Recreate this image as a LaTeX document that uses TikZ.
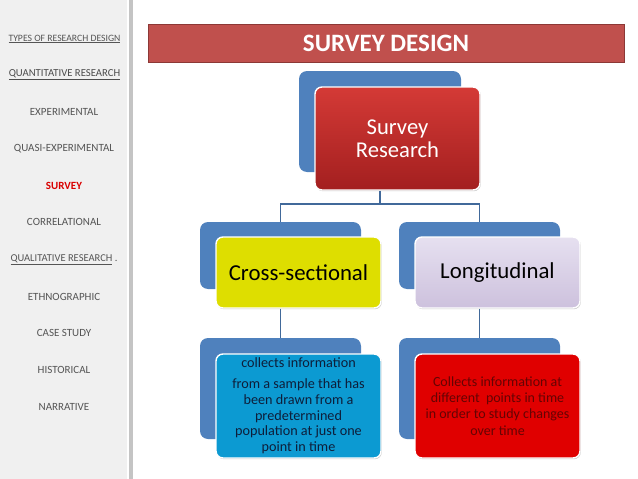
\documentclass[tikz,border=0pt]{standalone}
\usepackage{fontspec}
\setmainfont{Carlito}
\usetikzlibrary{shadows}
\definecolor{sidebg}{HTML}{F0F0F0}
\definecolor{sideline}{HTML}{C4C4C4}
\definecolor{sidetxt}{HTML}{555555}
\definecolor{titlefill}{HTML}{C0504D}
\definecolor{titledraw}{HTML}{8C3836}
\definecolor{backblue}{HTML}{4F81BD}
\definecolor{connblue}{HTML}{41699A}
\definecolor{redtop}{HTML}{D43A36}
\definecolor{redbot}{HTML}{A31F1F}
\definecolor{yel}{HTML}{DEDE00}
\definecolor{lavtop}{HTML}{E6E0F0}
\definecolor{lavbot}{HTML}{CDC1DD}
\definecolor{cyanbox}{HTML}{0C9AD2}
\definecolor{redbox}{HTML}{E00000}
\definecolor{darkred}{HTML}{640404}
\definecolor{navytxt}{HTML}{0E1E3A}
\tikzset{
  sideitem/.style={text=sidetxt, font=\fontsize{11}{12}\selectfont, inner sep=0pt},
  backbox/.style={fill=backblue, rounded corners=8pt, inner sep=0pt},
  frontbox/.style={draw=white, line width=1.4pt, rounded corners=7pt, inner sep=2pt,
    drop shadow={shadow xshift=0.8pt, shadow yshift=-1.2pt, opacity=0.35, fill=black!60}},
  conn/.style={draw=connblue, line width=1.3pt},
}
\begin{document}
\begin{tikzpicture}[x=1pt,y=-1pt]
\useasboundingbox (0,0) rectangle (638,479);
% sidebar
\fill[sidebg] (0,0) rectangle (127,479);
\fill[sideline] (129,0) rectangle (133,479);
\node[sideitem, font=\fontsize{9.7}{11}\selectfont] (s1) at (64.5,39) {\underline{TYPES OF RESEARCH DESIGN}};
\node[sideitem, text=black!70, font=\fontsize{10.7}{12}\selectfont] (s2) at (64.5,75) {\underline{QUANTITATIVE RESEARCH}};
\node[sideitem] (s3) at (64,112) {EXPERIMENTAL};
\node[sideitem] (s4) at (64,149) {QUASI-EXPERIMENTAL};
\node[sideitem, text=red!85!black] (s5) at (64,186) {\textbf{SURVEY}};
\node[sideitem] (s6) at (64,222) {CORRELATIONAL};
\node[sideitem, font=\fontsize{10.5}{12}\selectfont] (s7) at (64,260) {\underline{QUALITATIVE RESEARCH}\ .};
\node[sideitem] (s8) at (64,297) {ETHNOGRAPHIC};
\node[sideitem] (s9) at (64,333) {CASE STUDY};
\node[sideitem] (s10) at (64,370) {HISTORICAL};
\node[sideitem] (s11) at (64,407) {NARRATIVE};
% title bar
\node[fill=titlefill, draw=titledraw, line width=1pt, minimum width=476pt, minimum height=38pt,
  inner sep=0pt, text=white, font=\bfseries\fontsize{25}{28}\selectfont] (title) at (386,43) {SURVEY DESIGN};
% top node
\node[backbox, minimum width=162pt, minimum height=101pt] (topback) at (380,121.5) {};
\node[frontbox, top color=redtop, bottom color=redbot, minimum width=165pt, minimum height=103pt,
  text=white, align=center, font=\fontsize{22.6}{22.5}\selectfont] (topfront) at (397.5,138.5) {Survey\\Research};
% middle nodes
\node[backbox, minimum width=161pt, minimum height=67pt] (mlback) at (280.5,255.5) {};
\node[frontbox, fill=yel, minimum width=165pt, minimum height=71pt,
  font=\fontsize{22.8}{26}\selectfont] (mlfront) at (298.5,272.5) {Cross-sectional};
\node[backbox, minimum width=161pt, minimum height=67pt] (mrback) at (479.5,255.5) {};
\node[frontbox, top color=lavtop, bottom color=lavbot, minimum width=165pt, minimum height=71pt,
  font=\fontsize{22.8}{26}\selectfont] (mrfront) at (497.5,272.5) {Longitudinal};
% bottom nodes
\node[backbox, minimum width=161pt, minimum height=101pt] (blback) at (280.5,388.5) {};
\node[frontbox, fill=cyanbox, minimum width=165pt, minimum height=104pt, text=navytxt,
  align=center, font=\fontsize{14.2}{15.8}\selectfont] (blfront) at (298.5,406) {collects information\\[5pt]from a sample that has\\been drawn from a\\predetermined\\population at just one\\point in time};
\node[backbox, minimum width=161pt, minimum height=101pt] (brback) at (479.5,388.5) {};
\node[frontbox, fill=redbox, minimum width=165pt, minimum height=104pt, text=darkred,
  align=center, font=\fontsize{14}{16.2}\selectfont] (brfront) at (497.5,406) {Collects information at\\different~ points in time\\in order to study changes\\over time};
% connectors
\coordinate (junc) at (380,204);
\draw[conn] (topback.center |- topfront.south) -- (junc) -| (mlback.north);
\draw[conn] (junc) -| (mrback.north);
\draw[conn] (mlback.center |- mlfront.south) -- (blback.north);
\draw[conn] (mrback.center |- mrfront.south) -- (brback.north);
\end{tikzpicture}
\end{document}
